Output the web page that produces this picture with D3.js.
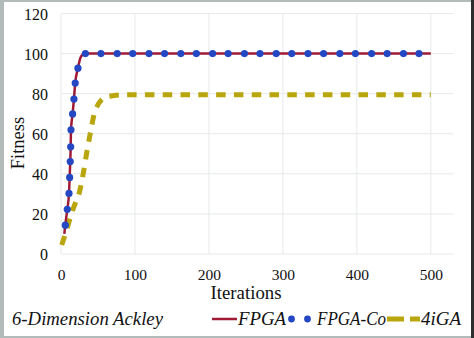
<!DOCTYPE html>
<html><head><meta charset="utf-8">
<script src="https://cdn.jsdelivr.net/npm/d3@7/dist/d3.min.js"></script>
<style>
html,body{margin:0;padding:0;background:#fff;}
svg{display:block;}
text{font-family:"Liberation Serif","Times New Roman",serif;fill:#111;}
</style></head>
<body>
<svg id="c" width="474" height="338"></svg>
<script>
// ---- data ----
const xTicks = [0, 100, 200, 300, 400, 500];
const yTicks = [0, 20, 40, 60, 80, 100, 120];
const fpgaIter = [4.5, 5.8, 8.5, 10.8, 11.7, 12.5, 13.1, 13.5, 15.7, 17.5, 19.2, 22.9, 26, 29, 33, 60, 500];
const fpgaVal  = [10, 14.4, 22.3, 30.2, 38.2, 46.1, 53.5, 62, 69.9, 77.3, 85.3, 92.7, 97.6, 99.4, 100, 100, 100];
const coIter = [5.8, 8.5, 10.8, 11.7, 12.5, 13.1, 13.5, 15.7, 17.5, 19.2, 22.9,
                33, 54, 76, 97, 119, 140, 162, 183, 205, 226, 248, 269, 291, 312, 334, 355, 377, 398, 420, 441, 463, 484];
const coVal  = [14.4, 22.3, 30.2, 38.2, 46.1, 53.5, 62, 69.9, 77.3, 85.3, 92.7,
                100, 100, 100, 100, 100, 100, 100, 100, 100, 100, 100, 100, 100, 100, 100, 100, 100, 100, 100, 100, 100, 100];
const igaIter = [1, 5, 10, 15, 20, 25, 30, 35, 40, 45, 50, 55, 60, 70, 80, 100, 500];
const igaVal  = [4.5, 9, 15, 21, 26, 31, 40, 51, 61, 70, 74.5, 77, 78.2, 79, 79.4, 79.5, 79.5];
const seriesNames = ["FPGA", "FPGA-Co", "4iGA"];
const chartTitle = "6-Dimension Ackley";
const xLabel = "Iterations";
const yLabel = "Fitness";

// ---- drawing ----
const svg = d3.select("#c");
const W = 474, H = 338;
const RED = "#a11a35", BLUE = "#2447c4", GOLD = "#b9a50c";

// frame
svg.append("rect").attr("x",0).attr("y",0).attr("width",W).attr("height",H).attr("fill","#b3baba");
svg.append("rect").attr("x",4).attr("y",2).attr("width",467).attr("height",334).attr("fill","#fff");
svg.append("rect").attr("x",471).attr("y",0).attr("width",3).attr("height",H).attr("fill","#2e2e2e");

const x = d3.scaleLinear().domain([0, 530]).range([61, 453]);
const y = d3.scaleLinear().domain([0, 120]).range([254, 13.5]);

// grid
const g = svg.append("g");
g.selectAll(".hg").data(yTicks).join("line")
  .attr("x1", x(0)).attr("x2", x(530)).attr("y1", d=>y(d)).attr("y2", d=>y(d))
  .attr("stroke", "#e6e8ea").attr("stroke-width", 1);
g.selectAll(".vg").data(xTicks).join("line")
  .attr("y1", y(0)).attr("y2", y(120)).attr("x1", d=>x(d)).attr("x2", d=>x(d))
  .attr("stroke", "#e6e8ea").attr("stroke-width", 1);

// axes (labels only)
const yAxis = d3.axisLeft(y).tickValues(yTicks).tickSize(0).tickPadding(0);
const ya = svg.append("g").attr("transform", "translate(48,0)").call(yAxis);
ya.select(".domain").remove();
ya.selectAll("text").style("font-family", '"Liberation Serif",serif').style("font-size", "16px").attr("fill", "#111").attr("dy", "0.35em");

const xAxis = d3.axisBottom(x).tickValues(xTicks).tickSize(0).tickPadding(0);
const xa = svg.append("g").attr("transform", "translate(0,275)").call(xAxis);
xa.select(".domain").remove();
xa.selectAll("text").style("font-family", '"Liberation Serif",serif').style("font-size", "15.5px").attr("fill", "#111").attr("dy", "0.35em");

svg.append("text").attr("x", 246).attr("y", 293).attr("dy", "0.35em").attr("text-anchor", "middle")
  .style("font-size", "18px").attr("textLength", 71).attr("lengthAdjust", "spacingAndGlyphs").text(xLabel);
svg.append("text").attr("transform", "translate(18,143) rotate(-90)").attr("dy", "0.35em").attr("text-anchor", "middle")
  .style("font-size", "18.5px").text(yLabel);

// series
const line = d3.line().x(d=>x(d[0])).y(d=>y(d[1])).curve(d3.curveMonotoneX);
const fpga = fpgaIter.map((v,i)=>[v, fpgaVal[i]]);
const co = coIter.map((v,i)=>[v, coVal[i]]);
const iga = igaIter.map((v,i)=>[v, igaVal[i]]);

svg.append("path").datum(iga).attr("d", line).attr("fill","none").attr("stroke", GOLD)
  .attr("stroke-width", 5).attr("stroke-dasharray", "9.5,8.3");
svg.append("path").datum(fpga).attr("d", line).attr("fill","none").attr("stroke", RED).attr("stroke-width", 2.5);
svg.selectAll(".dot").data(co).join("circle").attr("cx", d=>x(d[0])).attr("cy", d=>y(d[1])).attr("r", 3.6).attr("fill", BLUE);

// legend
const ly = 319;
function legText(xp, w, s) {
  svg.append("text").attr("x", xp).attr("y", ly).attr("dy", "0.3em").style("font-size", "18.5px").style("font-style", "italic")
    .attr("textLength", w).attr("lengthAdjust", "spacingAndGlyphs").text(s);
}
legText(12, 151, chartTitle);
svg.append("line").attr("x1", 212).attr("x2", 237).attr("y1", ly).attr("y2", ly).attr("stroke", RED).attr("stroke-width", 2.5);
legText(238, 48, seriesNames[0]);
svg.selectAll(".ld").data([291.5, 307.5]).join("circle").attr("cx", d=>d).attr("cy", ly).attr("r", 3.4).attr("fill", BLUE);
legText(317, 69, seriesNames[1]);
svg.append("line").attr("x1", 387).attr("x2", 420).attr("y1", ly).attr("y2", ly).attr("stroke", GOLD).attr("stroke-width", 5).attr("stroke-dasharray", "17,6,10");
legText(421, 40, seriesNames[2]);
</script>
</body></html>
